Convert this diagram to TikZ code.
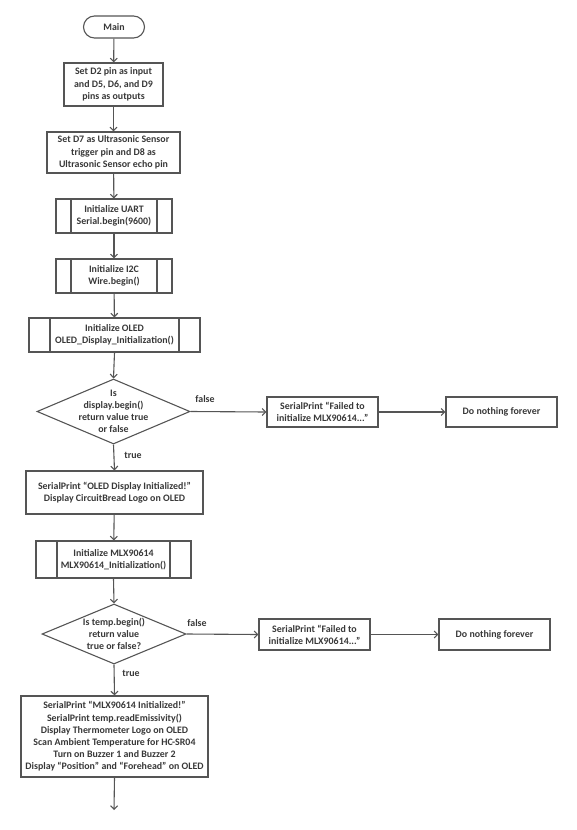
\documentclass[tikz,border=0pt]{standalone}
\usepackage{fontspec}
\setmainfont{Carlito}
\usetikzlibrary{shapes.geometric,arrows.meta}
\definecolor{ln}{HTML}{555555}
\definecolor{tx}{HTML}{383838}
\newcommand{\myfont}{\bfseries\fontsize{9.9}{12.2}\selectfont}
\tikzset{
  box/.style={draw=ln, line width=1.1pt, rectangle, inner sep=0pt, align=center, text=tx,
    font=\myfont},
  term/.style={box, rounded corners=11pt},
  subr/.style={box, path picture={
    \draw[ln, line width=1.1pt] ([xshift=#1]path picture bounding box.north west) -- ([xshift=#1]path picture bounding box.south west);
    \draw[ln, line width=1.1pt] ([xshift=-#1]path picture bounding box.north east) -- ([xshift=-#1]path picture bounding box.south east);}},
  dec/.style={draw=ln, line width=1.1pt, diamond, inner sep=0pt},
  dtxt/.style={align=center, text=tx, inner sep=0pt, font=\myfont},
  lbl/.style={text=tx, inner sep=0pt, font=\myfont},
  arr/.style={draw=ln, line width=1.1pt, -{Straight Barb[length=3.5pt,width=7pt]}}
}
\begin{document}
\begin{tikzpicture}[x=1pt,y=-1pt]
\useasboundingbox (0,0) rectangle (576,830);
\node[term, minimum width=61pt, minimum height=22pt] (main) at (114,27) {Main};
\node[box, minimum width=99pt, minimum height=43pt] (b1) at (113.5,84.5) {Set D2 pin as input\\and D5, D6, and D9\\pins as outputs};
\node[box, minimum width=133pt, minimum height=41pt] (b2) at (113.5,152.5) {Set D7 as Ultrasonic Sensor\\trigger pin and D8 as\\Ultrasonic Sensor echo pin};
\node[subr=15pt, minimum width=116pt, minimum height=34pt] (uart) at (114,216) {Initialize UART\\Serial.begin(9600)};
\node[subr=15pt, minimum width=116pt, minimum height=34pt] (i2c) at (114,276) {Initialize I2C\\Wire.begin()};
\node[subr=21pt, minimum width=171pt, minimum height=34pt] (oled) at (114.5,335) {Initialize OLED\\OLED\_Display\_Initialization()};
\node[dec, minimum width=153pt, minimum height=65pt] (d1) at (113.5,411.5) {};
\node[dtxt] (d1t) at (113.5,411.5) {Is\\display.begin()\\return value true\\or false};
\node[box, minimum width=111pt, minimum height=30pt] (f1) at (322.5,412) {SerialPrint “Failed to\\initialize MLX90614..."};
\node[box, minimum width=111pt, minimum height=30pt] (n1) at (501.5,412) {Do nothing forever};
\node[box, minimum width=177pt, minimum height=43pt] (b3) at (114.5,492.5) {SerialPrint “OLED Display Initialized!”\\Display CircuitBread Logo on OLED};
\node[subr=21pt, minimum width=155pt, minimum height=37pt] (mlx) at (113.5,559.5) {Initialize MLX90614\\MLX90614\_Initialization()};
\node[dec, minimum width=144pt, minimum height=60pt] (d2) at (114,634) {};
\node[dtxt] (d2t) at (114,634) {Is temp.begin()\\return value\\true or false?};
\node[box, minimum width=111pt, minimum height=31pt] (f2) at (314.5,634.5) {SerialPrint “Failed to\\initialize MLX90614..."};
\node[box, minimum width=111pt, minimum height=31pt] (n2) at (494.5,634.5) {Do nothing forever};
\node[box, minimum width=187pt, minimum height=81pt] (b4) at (114.5,736.5) {SerialPrint “MLX90614 Initialized!”\\SerialPrint temp.readEmissivity()\\Display Thermometer Logo on OLED\\Scan Ambient Temperature for HC-SR04\\Turn on Buzzer 1 and Buzzer 2\\Display “Position” and “Forehead” on OLED};
\coordinate (end) at (114,810);
\draw[arr] (main) -- (b1);
\draw[arr] (b1) -- (b2);
\draw[arr] (b2) -- (uart);
\draw[arr] (uart) -- (i2c);
\draw[arr] (i2c) -- (oled);
\draw[arr] (oled.south) -- (d1.north);
\draw[arr] (d1.east) -- (f1.west);
\draw[arr] (f1) -- (n1);
\draw[arr] (d1.south) -- (b3.north);
\draw[arr] (b3) -- (mlx);
\draw[arr] (mlx.south) -- (d2.north);
\draw[arr] (d2.east) -- (f2.west);
\draw[arr] (f2) -- (n2);
\draw[arr] (d2.south) -- (b4.north);
\draw[arr] (b4.south) -- (end);
\node[lbl] (l1) at (205,399) {false};
\node[lbl] (l2) at (133,455) {true};
\node[lbl] (l3) at (197,623) {false};
\node[lbl] (l4) at (131,673) {true};
\end{tikzpicture}
\end{document}
